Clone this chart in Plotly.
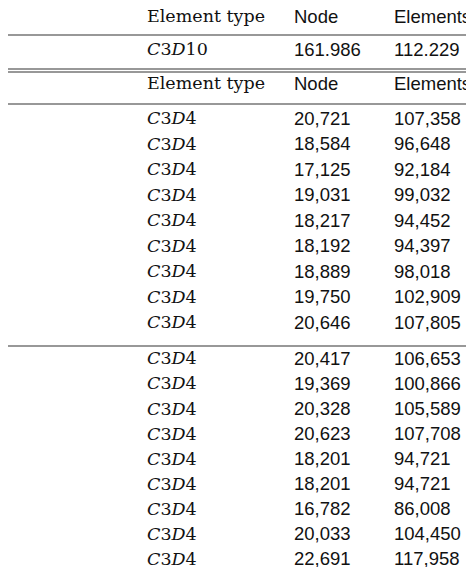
import plotly.graph_objects as go

headers = ["Subject code", "Element type", "Node", "Elements"]
top_subject = ["F54"]
top_type = ["C3D10"]
top_node = ["161.986"]
top_elem = ["112.229"]
f_subject = ["F41","F43","F44","F52","F53","F54","F61","F62","F64"]
f_node = ["20,721","18,584","17,125","19,031","18,217","18,192","18,889","19,750","20,646"]
f_elem = ["107,358","96,648","92,184","99,032","94,452","94,397","98,018","102,909","107,805"]
m_subject = ["M41","M42","M43","M51","M53","M54","M61","M62","M63"]
m_node = ["20,417","19,369","20,328","20,623","18,201","18,201","16,782","20,033","22,691"]
m_elem = ["106,653","100,866","105,589","107,708","94,721","94,721","86,008","104,450","117,958"]

def etype(s):
    out = ""
    for ch in s:
        out += f"<i>{ch}</i>" if ch.isalpha() else ch
    return out

col_x = [-5, 139, 286, 386]
rows = []
rows.append((10, headers))
rows.append((43, [top_subject[0], etype(top_type[0]), top_node[0], top_elem[0]]))
rows.append((77, headers))
for i, s in enumerate(f_subject):
    rows.append((112 + i * 25.5, [s, etype("C3D4"), f_node[i], f_elem[i]]))
for i, s in enumerate(m_subject):
    rows.append((352 + i * 25.1, [s, etype("C3D4"), m_node[i], m_elem[i]]))

fig = go.Figure()
for c in range(4):
    xs = [col_x[c]] * len(rows)
    ys = [r[0] for r in rows]
    ts = [r[1][c] for r in rows]
    fam = "DejaVu Serif" if c == 1 else "Liberation Sans"
    fig.add_trace(go.Scatter(x=xs, y=ys, text=ts, mode="text",
                             textposition="middle right", cliponaxis=False,
                             textfont=dict(family=fam, size=18.5 if c != 1 else 17.5, color="#111"),
                             hoverinfo="skip", showlegend=False))

for yl in [27, 61, 64, 96, 338]:
    fig.add_shape(type="line", x0=0, x1=474, y0=yl, y1=yl, xref="x", yref="y",
                  line=dict(color="#333", width=1.2))

fig.update_layout(width=474, height=567, margin=dict(l=0, r=0, t=0, b=0),
                  plot_bgcolor="white", paper_bgcolor="white",
                  xaxis=dict(range=[0, 474], visible=False, fixedrange=True),
                  yaxis=dict(range=[567, 0], visible=False, fixedrange=True))
fig.write_html("out.html")
